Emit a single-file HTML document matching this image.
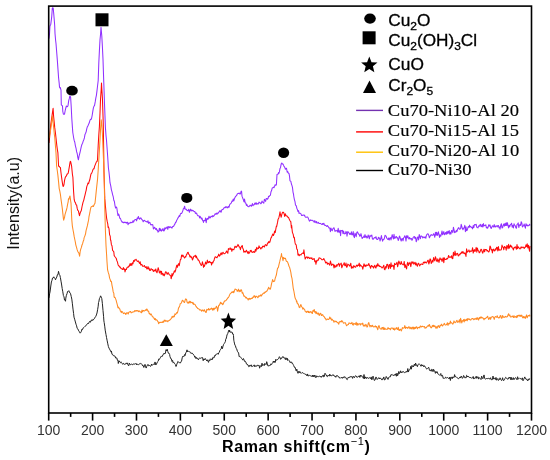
<!DOCTYPE html>
<html><head><meta charset="utf-8"><style>
html,body{margin:0;padding:0;background:#fff;}
body{width:550px;height:460px;overflow:hidden;}
svg{display:block;}
.tl{font-family:"Liberation Sans",Arial,sans-serif;font-size:14px;fill:#333;text-anchor:middle;}
.ml{font-family:"Liberation Sans","Noto Sans CJK KR",sans-serif;font-size:16.5px;fill:#000;stroke:#000;stroke-width:0.3px;}
.sl{font-family:"Liberation Serif","Times New Roman",serif;font-size:17px;fill:#000;stroke:#000;stroke-width:0.15px;}
.ax{font-family:"Liberation Sans","Noto Sans CJK KR",sans-serif;font-size:16px;font-weight:bold;fill:#000;}
.yl{font-family:"Liberation Sans",Arial,sans-serif;font-size:16.5px;fill:#111;}
</style></head><body>
<svg width="550" height="460" viewBox="0 0 550 460">
<g fill="none" stroke-width="1.05" stroke-linejoin="round">
<path d="M48.90,38.57 L49.50,34.16 L49.90,26.67 L50.20,25.47 L50.80,24.18 L51.40,19.42 L51.70,16.89 L52.00,12.77 L52.30,8.37 L52.60,7.82 L53.20,7.94 L53.80,14.51 L54.40,21.79 L54.70,25.67 L55.00,33.33 L55.60,40.29 L56.00,43.51 L56.80,53.44 L57.40,61.09 L58.00,69.66 L58.60,78.00 L59.20,83.38 L59.50,87.01 L59.80,87.87 L60.30,87.51 L61.00,90.06 L61.30,104.90 L61.60,104.99 L62.20,105.79 L62.50,106.02 L62.80,111.50 L63.40,114.16 L64.00,114.18 L64.50,114.12 L65.20,110.49 L65.50,109.26 L65.80,107.96 L66.40,106.01 L67.00,106.66 L67.60,106.47 L68.00,105.62 L68.70,100.62 L69.40,98.16 L69.80,96.08 L70.60,96.95 L71.20,106.48 L71.80,118.45 L72.40,127.12 L72.80,132.53 L73.60,137.49 L74.10,140.18 L74.80,142.27 L75.40,145.82 L76.00,148.02 L76.60,151.65 L77.20,153.46 L77.80,157.43 L78.40,159.79 L79.00,156.34 L79.60,154.09 L80.20,151.52 L80.80,148.87 L81.40,146.09 L82.00,144.26 L82.60,143.22 L83.20,141.09 L83.80,139.72 L84.40,137.95 L85.00,134.43 L85.60,133.27 L86.20,131.61 L86.80,128.57 L87.40,126.57 L88.00,125.95 L88.60,124.19 L89.20,123.07 L89.80,120.90 L90.40,119.36 L91.00,119.47 L91.50,118.75 L92.20,115.23 L92.80,111.31 L93.40,107.82 L94.00,106.14 L94.50,105.69 L95.20,101.93 L95.80,98.09 L96.40,95.32 L97.00,90.69 L97.60,85.48 L98.20,80.48 L98.80,63.00 L99.40,50.86 L100.00,39.86 L100.60,33.68 L101.00,27.26 L101.80,36.02 L102.40,46.82 L103.00,59.22 L103.60,77.58 L104.20,94.44 L104.50,103.97 L104.80,111.26 L105.40,127.36 L106.00,135.47 L106.50,140.21 L107.20,149.79 L107.80,158.23 L108.40,167.70 L109.00,172.20 L109.60,177.86 L110.00,182.73 L110.80,186.10 L111.40,189.80 L112.00,191.82 L112.60,194.55 L113.20,196.53 L113.80,200.21 L114.40,201.46 L115.00,205.60 L115.60,208.02 L116.20,206.93 L116.80,207.73 L117.40,212.16 L118.00,215.54 L118.60,214.00 L119.00,214.87 L119.80,218.29 L120.40,218.32 L121.00,219.94 L121.50,221.19 L122.20,222.34 L122.80,221.81 L123.40,222.74 L124.00,222.64 L124.60,222.13 L125.20,222.69 L125.80,222.21 L126.40,223.17 L127.00,222.24 L127.60,222.36 L128.00,224.71 L128.80,223.13 L129.40,222.97 L130.00,223.31 L130.60,222.31 L131.20,222.31 L131.80,222.74 L132.40,222.33 L133.00,220.69 L133.60,222.14 L134.20,220.52 L134.80,219.76 L135.40,219.50 L136.00,219.52 L136.60,220.89 L137.20,217.93 L137.80,218.69 L138.40,216.48 L139.00,218.40 L139.60,219.21 L140.20,218.19 L140.80,217.83 L141.40,218.90 L142.00,219.76 L142.60,220.17 L143.20,221.79 L143.80,220.64 L144.40,220.24 L145.00,220.91 L145.60,221.21 L146.20,221.63 L146.80,221.76 L147.40,222.20 L148.00,220.80 L148.60,223.36 L149.20,222.41 L149.80,222.19 L150.40,224.13 L151.00,225.06 L151.60,224.63 L152.00,224.55 L152.80,224.73 L153.40,229.04 L154.00,228.13 L154.60,227.19 L155.00,228.10 L155.80,229.46 L156.40,228.43 L157.00,230.42 L157.60,230.29 L158.00,232.10 L158.80,231.65 L159.40,228.17 L160.00,230.49 L160.60,228.83 L161.20,231.12 L161.80,230.11 L162.40,230.23 L163.00,228.54 L163.60,230.91 L164.20,230.84 L164.80,227.82 L165.40,228.89 L166.00,227.73 L166.60,228.09 L167.20,226.75 L167.80,229.35 L168.40,226.63 L169.00,227.08 L169.60,227.65 L170.00,226.52 L170.80,227.32 L171.40,227.36 L172.00,228.08 L172.60,226.49 L173.20,226.49 L173.80,226.03 L174.40,224.82 L175.00,223.85 L175.60,222.22 L176.00,222.28 L176.80,220.03 L177.40,219.24 L178.00,217.80 L178.60,217.09 L179.20,215.58 L179.80,216.35 L180.40,213.93 L181.00,213.33 L181.60,213.36 L182.00,212.76 L182.80,210.87 L183.40,208.53 L184.00,208.52 L184.30,207.13 L184.60,206.21 L185.20,209.34 L185.80,209.18 L186.40,209.29 L187.00,210.54 L187.60,210.44 L188.00,210.88 L188.80,209.25 L189.40,212.33 L190.00,210.16 L190.60,209.16 L191.20,210.96 L191.80,209.93 L192.40,210.71 L193.00,210.44 L193.60,211.03 L194.00,211.52 L194.80,211.47 L195.40,213.38 L196.00,212.98 L196.60,213.28 L197.20,214.79 L197.80,215.78 L198.40,215.83 L199.00,215.92 L199.60,217.92 L200.00,216.22 L200.80,217.51 L201.40,218.96 L202.00,218.18 L202.60,220.31 L203.20,221.11 L203.50,222.41 L203.80,220.56 L204.40,220.38 L205.00,220.80 L205.60,217.96 L206.20,222.63 L206.80,218.88 L207.40,218.42 L208.00,219.38 L208.60,218.08 L209.00,216.20 L209.80,217.92 L210.40,217.80 L211.00,216.30 L211.60,216.30 L212.20,216.84 L212.80,215.43 L213.40,216.37 L214.00,215.83 L214.60,214.71 L215.00,213.85 L215.80,214.22 L216.40,213.12 L217.00,214.30 L217.60,213.05 L218.20,213.14 L218.80,212.08 L219.40,211.82 L220.00,210.55 L220.60,211.52 L221.00,212.31 L221.80,209.98 L222.40,209.40 L223.00,209.46 L223.60,208.51 L224.20,207.65 L224.80,207.74 L225.40,206.78 L226.00,207.79 L226.60,206.68 L227.20,207.15 L227.80,207.90 L228.40,206.39 L229.00,207.29 L229.60,204.77 L230.00,204.17 L230.80,203.49 L231.40,202.91 L232.00,200.94 L232.60,201.33 L233.20,199.02 L233.80,200.93 L234.40,198.77 L235.00,197.42 L235.50,196.48 L236.20,195.93 L236.80,195.19 L237.40,193.82 L238.00,193.42 L238.60,193.57 L239.00,192.93 L239.80,193.98 L240.40,193.96 L241.00,191.54 L241.30,191.13 L241.60,191.60 L242.00,196.17 L242.80,198.21 L243.40,199.92 L244.00,201.81 L244.50,199.05 L245.20,202.87 L245.80,202.97 L246.40,205.49 L247.00,204.62 L247.50,206.05 L248.20,206.54 L248.80,206.79 L249.40,206.19 L250.00,205.29 L250.60,205.28 L251.20,206.36 L251.80,205.34 L252.40,203.60 L253.00,205.66 L253.60,204.79 L254.20,204.73 L254.80,203.16 L255.40,204.15 L256.00,202.60 L256.60,204.21 L257.00,203.36 L257.80,203.97 L258.40,203.94 L259.00,202.04 L259.60,202.65 L260.20,202.74 L260.80,203.77 L261.40,203.12 L262.00,201.05 L262.60,202.23 L263.00,202.27 L263.80,203.07 L264.40,199.32 L265.00,200.02 L265.60,201.37 L266.20,198.62 L266.80,198.43 L267.40,199.23 L268.00,198.72 L268.60,196.24 L269.00,196.69 L269.80,195.59 L270.40,195.23 L271.00,191.70 L271.50,190.79 L272.20,188.06 L272.80,187.83 L273.40,187.17 L274.00,187.63 L274.60,186.46 L275.00,184.82 L275.80,185.31 L276.40,184.79 L277.00,174.50 L277.60,174.17 L278.20,174.03 L278.50,172.57 L278.80,173.46 L279.40,171.88 L280.00,168.42 L280.50,167.67 L281.20,163.87 L281.50,163.80 L281.80,163.05 L282.30,163.89 L283.00,163.96 L283.60,165.39 L284.20,166.69 L284.80,167.42 L285.40,169.31 L286.00,168.46 L286.50,168.25 L287.20,172.25 L287.80,171.56 L288.40,173.29 L289.00,173.41 L289.50,176.15 L290.00,180.88 L290.80,181.21 L291.40,183.99 L292.00,185.66 L292.50,187.57 L293.00,192.05 L293.50,194.12 L293.80,196.50 L294.40,199.53 L295.00,201.69 L295.50,205.11 L296.20,205.66 L296.80,208.18 L297.40,209.54 L298.00,211.48 L298.60,210.69 L299.00,213.37 L299.80,213.04 L300.40,213.52 L301.00,213.89 L301.60,215.54 L302.20,215.56 L302.80,215.04 L303.40,215.06 L304.00,215.40 L304.60,215.11 L305.00,216.58 L305.80,217.28 L306.40,217.15 L307.00,217.02 L307.60,216.97 L308.20,218.07 L308.80,219.48 L309.40,221.14 L310.00,220.52 L310.60,219.93 L311.00,220.53 L311.80,220.31 L312.40,220.22 L313.00,220.93 L313.60,221.10 L314.20,222.39 L314.80,220.61 L315.40,221.94 L316.00,222.64 L316.60,221.45 L317.00,223.05 L317.80,222.92 L318.40,222.41 L319.00,223.54 L319.60,223.47 L320.20,223.39 L320.80,223.57 L321.40,224.05 L322.00,224.49 L322.60,223.48 L323.00,224.39 L323.80,223.23 L324.40,224.98 L325.00,225.46 L325.60,225.38 L326.20,225.82 L326.80,226.42 L327.40,225.62 L328.00,226.33 L328.60,227.34 L329.00,228.00 L329.80,227.90 L330.40,231.70 L331.00,228.06 L331.60,230.03 L332.20,230.76 L332.80,228.99 L333.40,228.17 L334.00,227.78 L334.60,229.94 L335.00,231.47 L335.80,230.65 L336.40,230.83 L337.00,230.33 L337.60,232.07 L338.20,228.36 L338.80,232.24 L339.40,232.14 L340.00,230.19 L340.60,235.66 L341.00,230.42 L341.80,230.68 L342.40,230.35 L343.00,233.67 L343.60,231.00 L344.20,233.66 L344.80,233.87 L345.40,233.59 L346.00,231.39 L346.60,232.58 L347.00,236.11 L347.80,231.53 L348.40,232.12 L349.00,233.02 L349.60,234.38 L350.00,233.48 L350.80,234.41 L351.40,231.84 L352.00,235.00 L352.60,234.58 L353.20,231.48 L353.80,236.32 L354.40,237.59 L355.00,233.15 L355.60,234.52 L356.20,236.66 L356.80,232.47 L357.40,231.84 L358.00,233.01 L358.60,234.24 L359.20,234.36 L359.80,236.27 L360.40,235.85 L361.00,233.65 L361.60,236.44 L362.20,238.48 L362.80,237.53 L363.40,237.29 L364.00,235.91 L364.60,237.43 L365.00,234.55 L365.80,237.29 L366.40,236.15 L367.00,238.10 L367.60,237.22 L368.20,235.01 L368.80,236.95 L369.40,238.71 L370.00,235.31 L370.60,236.23 L371.20,235.99 L371.80,234.97 L372.40,238.73 L373.00,239.33 L373.60,238.63 L374.20,237.87 L374.80,237.50 L375.40,238.02 L376.00,236.64 L376.60,239.16 L377.20,239.48 L377.80,239.39 L378.40,237.28 L379.00,238.28 L379.60,238.00 L380.00,240.98 L380.80,238.57 L381.40,235.48 L382.00,238.90 L382.60,241.12 L383.20,239.33 L383.80,239.62 L384.40,238.35 L385.00,235.34 L385.60,235.62 L386.20,236.50 L386.80,238.22 L387.40,238.91 L388.00,239.51 L388.60,238.01 L389.20,239.99 L389.80,238.17 L390.40,237.57 L391.00,239.94 L391.60,237.32 L392.20,234.64 L392.80,237.18 L393.40,238.95 L394.00,234.22 L394.60,238.34 L395.00,238.40 L395.80,236.67 L396.40,236.52 L397.00,237.99 L397.60,237.79 L398.20,240.44 L398.80,239.04 L399.40,236.04 L400.00,237.07 L400.60,239.34 L401.20,241.06 L401.80,238.73 L402.40,238.55 L403.00,240.81 L403.60,237.92 L404.20,237.42 L404.80,235.70 L405.40,237.03 L406.00,241.07 L406.60,235.67 L407.20,237.82 L407.80,235.69 L408.40,237.99 L409.00,239.13 L409.60,237.43 L410.20,238.90 L410.80,238.88 L411.40,238.47 L412.00,240.37 L412.60,238.97 L413.20,237.34 L413.80,236.78 L414.40,236.53 L415.00,238.51 L415.60,237.25 L416.20,241.76 L416.80,240.37 L417.40,237.21 L418.00,236.98 L418.60,239.94 L419.20,234.51 L419.80,236.59 L420.40,238.63 L421.00,235.77 L421.60,236.36 L422.20,236.48 L422.80,237.93 L423.40,237.08 L424.00,237.41 L424.60,237.64 L425.00,236.74 L425.80,238.29 L426.40,235.47 L427.00,234.35 L427.60,233.77 L428.20,233.95 L428.80,235.49 L429.40,237.81 L430.00,236.46 L430.60,235.24 L431.20,234.48 L431.80,235.23 L432.40,235.35 L433.00,235.05 L433.60,233.69 L434.20,235.07 L434.80,237.25 L435.40,232.35 L436.00,235.12 L436.60,232.17 L437.20,235.49 L437.80,233.96 L438.40,231.82 L439.00,234.97 L439.60,237.41 L440.00,234.76 L440.80,236.17 L441.40,234.18 L442.00,230.92 L442.60,234.76 L443.20,233.27 L443.80,231.57 L444.40,234.81 L445.00,233.93 L445.60,232.53 L446.20,234.44 L446.80,231.65 L447.40,233.75 L448.00,231.19 L448.60,233.22 L449.20,230.59 L449.80,234.29 L450.40,232.30 L451.00,233.95 L451.60,230.45 L452.20,230.85 L452.80,232.70 L453.40,227.20 L454.00,229.60 L454.60,232.63 L455.00,231.70 L455.80,232.29 L456.40,230.23 L457.00,231.41 L457.60,229.33 L458.20,228.24 L458.80,227.62 L459.40,229.20 L460.00,229.08 L460.60,228.82 L461.20,224.31 L461.80,226.51 L462.40,228.57 L463.00,229.67 L463.60,228.24 L464.20,227.66 L464.80,225.38 L465.40,231.66 L466.00,226.73 L466.60,230.65 L467.20,230.22 L467.80,228.03 L468.40,226.51 L469.00,227.32 L469.60,225.14 L470.00,227.09 L470.80,226.56 L471.40,227.25 L472.00,227.77 L472.60,228.83 L473.20,225.54 L473.80,227.58 L474.40,224.72 L475.00,224.46 L475.60,224.90 L476.20,224.38 L476.80,227.34 L477.40,227.28 L478.00,227.83 L478.60,225.91 L479.20,226.38 L479.80,225.12 L480.40,224.30 L481.00,226.74 L481.60,226.51 L482.20,224.49 L482.80,227.07 L483.40,223.63 L484.00,226.01 L484.60,225.38 L485.20,225.57 L485.80,224.78 L486.40,227.88 L487.00,227.34 L487.60,228.31 L488.20,226.77 L488.80,224.67 L489.40,226.09 L490.00,224.91 L490.60,227.37 L491.20,228.50 L491.80,227.17 L492.40,225.78 L493.00,226.13 L493.60,226.99 L494.20,224.51 L494.80,226.90 L495.40,226.98 L496.00,225.86 L496.60,226.05 L497.20,226.93 L497.80,225.44 L498.40,225.44 L499.00,227.84 L499.60,227.01 L500.00,229.19 L500.80,225.10 L501.40,223.84 L502.00,227.86 L502.60,227.82 L503.20,225.20 L503.80,224.04 L504.40,226.11 L505.00,223.48 L505.60,225.53 L506.20,222.70 L506.80,225.55 L507.40,222.66 L508.00,225.42 L508.60,227.98 L509.20,225.24 L509.80,226.72 L510.40,224.58 L511.00,224.21 L511.60,223.30 L512.20,227.10 L512.80,225.45 L513.40,227.97 L514.00,223.77 L514.60,225.20 L515.20,225.65 L515.80,227.65 L516.40,228.27 L517.00,224.56 L517.60,223.83 L518.20,222.92 L518.80,227.53 L519.40,225.40 L520.00,224.55 L520.60,225.45 L521.20,221.69 L521.80,222.94 L522.40,226.93 L523.00,226.12 L523.60,225.75 L524.20,224.02 L524.80,226.40 L525.40,228.19 L526.00,223.68 L526.60,225.54 L527.20,224.87 L527.80,226.06 L528.40,225.54 L529.00,225.30 L529.60,224.20 L530.00,225.50" stroke="#9030FF"/>
<path d="M49.00,143.04 L49.60,137.65 L50.20,130.56 L50.80,124.40 L51.40,119.96 L52.00,115.81 L52.60,111.49 L53.10,108.35 L53.60,116.36 L54.40,124.12 L54.70,127.40 L55.00,129.51 L55.60,134.25 L56.80,145.32 L57.40,149.83 L57.90,152.95 L58.60,166.30 L59.20,166.30 L59.80,167.33 L60.40,167.40 L61.00,172.69 L61.60,177.41 L62.20,181.64 L62.80,185.38 L63.10,186.44 L63.40,186.23 L64.00,184.53 L64.60,180.10 L65.10,178.05 L65.80,176.33 L66.40,176.04 L67.00,174.07 L67.60,173.95 L68.20,173.11 L68.80,169.79 L69.40,166.32 L70.00,162.56 L70.30,161.38 L70.60,161.46 L71.20,164.20 L71.60,166.13 L72.40,174.25 L72.90,177.38 L73.60,191.61 L74.20,199.69 L74.80,201.87 L75.40,202.54 L76.00,204.73 L76.60,204.89 L77.20,208.46 L77.80,210.33 L78.40,210.85 L79.00,213.55 L79.50,215.67 L80.20,212.90 L80.80,211.56 L81.40,210.19 L82.00,206.75 L82.60,204.17 L83.00,202.38 L83.80,200.12 L84.40,197.37 L85.00,195.10 L85.60,192.39 L86.20,190.05 L86.70,186.81 L87.40,184.92 L88.00,183.01 L88.60,183.60 L89.00,182.04 L89.80,179.75 L90.40,176.61 L91.00,173.89 L91.60,173.39 L92.20,171.92 L92.80,170.10 L93.40,168.87 L94.00,168.77 L94.60,166.43 L95.00,165.43 L95.80,163.38 L96.40,161.91 L97.00,161.53 L97.50,159.94 L98.20,145.58 L98.50,139.93 L98.80,135.00 L99.40,126.60 L100.00,113.12 L100.50,99.54 L101.20,89.24 L101.50,83.13 L101.80,88.53 L102.40,97.89 L103.00,115.50 L103.30,125.03 L103.60,144.90 L104.00,171.61 L104.80,198.63 L105.40,205.88 L105.70,209.14 L106.00,212.47 L106.60,218.05 L107.20,221.45 L107.80,224.01 L108.10,227.46 L108.40,226.68 L109.00,228.63 L109.60,234.73 L110.20,236.11 L110.50,240.27 L110.80,240.02 L111.40,244.69 L112.00,245.73 L112.60,250.32 L113.20,250.98 L113.80,251.89 L114.20,255.68 L115.00,256.77 L115.60,257.55 L116.20,258.25 L116.80,260.46 L117.40,261.90 L118.00,264.39 L118.50,265.80 L119.20,266.01 L119.50,266.85 L119.80,267.23 L120.40,267.13 L121.00,268.61 L121.60,268.75 L122.20,269.17 L122.80,269.44 L123.40,267.55 L124.00,269.45 L124.60,269.00 L125.00,271.88 L125.80,269.27 L126.40,269.46 L127.00,267.66 L127.60,267.07 L128.20,267.36 L128.80,266.06 L129.40,266.19 L130.00,263.74 L130.60,265.42 L131.00,263.50 L131.80,265.40 L132.40,262.85 L133.00,263.70 L133.60,260.49 L134.20,261.59 L134.50,259.91 L134.80,260.07 L135.40,260.10 L136.00,259.28 L136.60,260.34 L137.20,261.31 L137.50,261.45 L137.80,261.19 L138.40,260.88 L139.00,262.40 L139.60,263.36 L140.20,261.80 L140.80,265.03 L141.40,264.40 L142.00,264.75 L142.60,266.31 L143.00,266.27 L143.80,266.30 L144.40,265.44 L145.00,267.11 L145.60,267.51 L146.20,266.64 L146.80,268.92 L147.40,268.75 L148.00,266.63 L148.60,269.08 L149.00,267.94 L149.80,270.58 L150.40,270.43 L151.00,268.70 L151.60,268.92 L152.20,269.90 L152.80,269.56 L153.40,271.47 L154.00,270.89 L154.60,270.08 L155.00,271.08 L155.80,269.05 L156.40,271.83 L157.00,272.82 L157.60,270.43 L158.20,267.66 L158.80,269.93 L159.40,272.96 L160.00,271.83 L160.60,271.14 L161.20,274.33 L161.50,271.32 L161.80,273.92 L162.40,273.27 L163.00,275.22 L163.60,273.88 L164.20,275.87 L164.80,274.55 L165.40,272.22 L165.90,271.73 L166.60,273.03 L167.20,274.34 L167.80,272.88 L168.10,272.67 L168.40,272.73 L169.00,274.44 L169.60,274.82 L170.20,275.46 L170.80,275.69 L171.10,278.69 L171.40,277.99 L172.00,273.57 L172.40,276.00 L173.20,274.02 L173.80,272.51 L174.40,270.80 L175.00,272.10 L175.60,270.28 L176.20,267.39 L176.80,265.22 L177.40,267.31 L177.90,264.91 L178.60,263.63 L179.20,265.75 L179.50,264.43 L179.80,262.48 L180.40,259.52 L181.00,259.07 L181.60,255.07 L182.20,256.63 L182.80,254.94 L183.40,255.94 L183.90,256.92 L184.60,258.06 L185.20,256.80 L185.50,256.46 L185.80,256.95 L186.40,254.87 L187.00,254.09 L187.60,252.41 L188.20,252.32 L188.80,254.38 L189.40,254.93 L189.90,256.94 L190.60,256.04 L191.20,257.54 L191.50,257.63 L191.80,257.06 L192.40,259.99 L193.00,258.81 L193.60,256.74 L194.20,256.13 L194.80,256.24 L195.40,255.27 L196.00,257.56 L196.40,256.11 L197.20,258.54 L197.80,259.01 L198.10,260.12 L198.40,259.79 L199.00,260.60 L199.60,262.26 L200.20,263.38 L200.80,264.55 L201.30,265.57 L202.00,264.16 L202.40,261.81 L203.20,264.82 L203.50,267.33 L203.80,265.35 L204.40,266.35 L205.00,264.33 L205.60,261.93 L206.20,263.87 L206.80,263.76 L207.30,260.11 L208.00,262.24 L208.60,262.68 L209.20,261.39 L209.50,262.33 L209.80,261.49 L210.40,262.45 L211.00,262.46 L211.60,265.01 L212.20,262.21 L212.80,263.02 L213.40,261.21 L214.00,260.66 L214.40,258.74 L215.20,256.73 L215.80,256.93 L216.40,257.52 L217.00,257.82 L217.60,256.40 L218.20,255.86 L218.70,254.16 L219.40,256.18 L220.00,255.69 L220.60,253.52 L220.90,253.85 L221.20,252.69 L221.80,254.71 L222.40,253.22 L223.00,252.28 L223.60,253.18 L224.20,253.79 L224.80,253.51 L225.30,253.16 L226.00,252.22 L226.60,250.99 L227.20,252.42 L227.80,253.32 L228.40,248.50 L229.00,249.44 L229.60,248.81 L230.20,247.88 L230.80,249.53 L231.40,248.69 L231.80,251.30 L232.60,249.11 L233.20,249.50 L233.80,249.78 L234.40,248.17 L235.00,246.21 L235.60,246.87 L236.20,247.56 L236.80,246.28 L237.40,246.16 L238.00,244.41 L238.40,245.34 L239.20,246.96 L239.80,247.04 L240.40,249.68 L241.00,247.44 L241.60,246.31 L242.20,245.43 L242.70,247.95 L243.40,249.54 L243.80,252.21 L244.60,251.26 L245.20,252.13 L245.80,251.47 L246.40,250.21 L247.00,251.60 L247.60,253.15 L248.20,251.56 L248.80,253.62 L249.40,252.75 L250.00,251.90 L250.30,250.40 L250.60,251.20 L251.20,250.38 L251.80,252.16 L252.40,252.11 L253.00,252.52 L253.60,251.51 L254.20,251.85 L254.70,252.38 L255.40,249.35 L256.00,251.12 L256.60,247.74 L256.90,247.34 L257.20,249.09 L257.80,248.65 L258.40,248.51 L259.00,245.85 L259.60,247.45 L260.20,247.78 L260.80,249.04 L261.30,247.80 L262.00,248.06 L262.60,246.24 L263.20,246.72 L263.80,246.18 L264.40,247.06 L265.00,245.10 L265.60,244.65 L266.20,245.30 L266.80,245.74 L267.40,243.66 L268.00,242.95 L268.60,241.67 L268.90,242.79 L269.20,241.85 L269.80,242.26 L270.40,240.08 L270.90,238.15 L271.60,237.09 L272.20,235.44 L272.80,233.95 L273.40,235.50 L274.00,234.09 L274.60,231.08 L275.20,232.54 L275.80,229.14 L276.40,226.07 L276.70,226.49 L277.00,224.97 L277.60,222.14 L278.00,219.56 L278.80,217.97 L279.30,215.99 L280.00,211.85 L280.40,214.25 L281.20,217.25 L281.80,214.49 L282.40,212.63 L283.00,212.08 L283.60,212.51 L284.20,213.98 L284.60,216.35 L285.40,213.84 L286.00,215.75 L286.50,215.88 L287.20,216.11 L287.80,217.34 L288.40,217.34 L289.00,218.57 L289.60,220.07 L290.20,221.02 L290.80,221.60 L291.40,227.96 L291.70,225.53 L292.00,229.01 L292.40,232.37 L293.20,234.39 L293.80,237.73 L294.30,237.32 L295.00,242.44 L295.40,244.14 L296.20,244.83 L296.80,249.08 L297.40,249.55 L298.00,255.08 L298.60,254.11 L299.20,255.70 L299.80,254.69 L300.40,254.83 L301.00,255.06 L301.30,254.40 L301.60,253.72 L302.20,253.35 L302.80,252.94 L303.40,253.70 L303.90,249.80 L304.60,255.53 L305.20,259.05 L305.80,257.70 L306.40,257.17 L307.00,256.75 L307.60,258.19 L308.20,257.39 L308.80,257.16 L309.40,258.42 L310.00,258.21 L310.40,257.78 L311.20,258.70 L311.80,257.72 L312.40,259.42 L313.00,259.49 L313.60,258.85 L314.20,258.50 L314.80,261.75 L315.40,260.83 L316.00,264.30 L316.30,260.85 L316.60,262.03 L317.20,260.11 L317.80,260.16 L318.40,260.11 L319.00,257.84 L319.60,257.90 L320.20,258.36 L320.80,258.51 L321.40,259.20 L322.00,259.83 L322.60,259.83 L323.20,259.46 L323.50,258.95 L323.80,258.60 L324.40,259.85 L325.00,260.91 L325.60,262.97 L326.10,262.64 L326.80,262.11 L327.40,264.28 L328.00,263.15 L328.60,263.48 L329.20,264.32 L329.80,265.19 L330.40,260.99 L331.00,263.19 L331.60,265.41 L332.20,264.68 L332.80,264.01 L333.40,264.67 L334.00,267.89 L334.60,265.08 L335.00,267.04 L335.80,266.99 L336.40,264.87 L337.00,266.17 L337.60,264.61 L338.20,264.22 L338.80,263.26 L339.40,266.33 L340.00,264.16 L340.60,263.96 L341.20,263.09 L341.80,267.84 L342.40,266.18 L343.00,264.83 L343.60,263.98 L344.20,262.69 L344.80,265.65 L345.40,265.72 L346.00,263.09 L346.60,267.28 L347.20,266.75 L347.80,264.05 L348.40,264.79 L349.00,265.08 L349.60,266.10 L350.00,265.67 L350.80,263.28 L351.40,268.26 L352.00,266.41 L352.60,267.92 L353.20,267.91 L353.80,265.57 L354.40,266.45 L355.00,267.08 L355.60,267.20 L356.20,265.78 L356.80,265.13 L357.40,266.24 L358.00,264.98 L358.60,265.44 L359.20,263.16 L359.80,266.61 L360.40,264.81 L361.00,265.49 L361.60,266.22 L362.20,266.74 L362.80,269.19 L363.40,266.42 L364.00,263.76 L364.60,266.16 L365.00,264.95 L365.80,266.64 L366.40,264.97 L367.00,265.01 L367.60,265.39 L368.20,265.28 L368.80,263.44 L369.40,265.36 L370.00,266.48 L370.60,268.26 L371.20,265.72 L371.80,265.44 L372.40,266.80 L373.00,266.58 L373.60,268.12 L374.20,266.34 L374.80,265.22 L375.40,267.49 L376.00,268.01 L376.60,265.02 L377.20,266.25 L377.80,263.52 L378.40,265.84 L379.00,265.23 L379.60,266.51 L380.00,266.23 L380.80,266.81 L381.40,266.98 L382.00,267.99 L382.60,267.63 L383.20,266.42 L383.80,265.32 L384.40,269.42 L385.00,269.77 L385.60,266.59 L386.20,268.04 L386.80,264.52 L387.40,264.28 L388.00,266.17 L388.60,268.77 L389.20,264.57 L389.80,264.73 L390.40,268.49 L391.00,262.77 L391.60,266.71 L392.20,266.34 L392.80,265.11 L393.40,265.62 L394.00,269.39 L394.60,263.28 L395.00,264.50 L395.80,264.38 L396.40,263.48 L397.00,262.25 L397.60,266.77 L398.20,264.39 L398.80,261.05 L399.40,262.56 L400.00,264.15 L400.60,264.27 L401.20,261.44 L401.80,263.71 L402.40,264.40 L403.00,264.73 L403.60,264.85 L404.20,261.42 L404.80,267.42 L405.40,264.79 L406.00,267.27 L406.60,268.89 L407.20,263.98 L407.80,262.19 L408.40,265.47 L409.00,263.73 L409.60,263.23 L410.00,262.25 L410.80,266.60 L411.40,263.19 L412.00,261.66 L412.60,263.18 L413.20,262.05 L413.80,264.15 L414.40,263.23 L415.00,262.21 L415.60,264.93 L416.20,263.01 L416.80,265.27 L417.40,266.21 L418.00,263.68 L418.60,263.30 L419.20,264.72 L419.80,265.90 L420.40,264.36 L421.00,264.38 L421.60,263.91 L422.20,264.25 L422.80,264.55 L423.40,262.21 L424.00,262.37 L424.60,263.01 L425.00,261.73 L425.80,262.68 L426.40,263.07 L427.00,261.93 L427.60,260.74 L428.20,260.21 L428.80,264.01 L429.40,262.36 L430.00,258.91 L430.60,259.22 L431.20,263.43 L431.80,262.72 L432.40,260.38 L433.00,261.89 L433.60,257.53 L434.20,259.78 L434.80,260.83 L435.40,256.66 L436.00,258.43 L436.60,260.98 L437.20,261.59 L437.80,258.87 L438.40,260.34 L439.00,262.48 L439.60,259.36 L440.00,257.87 L440.80,259.66 L441.40,258.95 L442.00,261.48 L442.60,259.48 L443.20,257.76 L443.80,262.70 L444.40,257.88 L445.00,259.26 L445.60,259.45 L446.20,259.49 L446.80,258.38 L447.40,258.91 L448.00,257.73 L448.60,255.44 L449.20,257.22 L449.80,257.13 L450.40,256.94 L451.00,257.18 L451.60,255.70 L452.20,258.55 L452.80,258.67 L453.40,252.38 L454.00,255.65 L454.60,254.24 L455.00,251.03 L455.80,255.58 L456.40,253.73 L457.00,253.92 L457.60,253.27 L458.20,255.85 L458.80,255.89 L459.40,254.15 L460.00,254.61 L460.60,253.16 L461.20,253.41 L461.80,251.85 L462.40,252.93 L463.00,251.58 L463.60,253.16 L464.20,253.73 L464.80,252.75 L465.40,254.08 L466.00,256.46 L466.60,248.77 L467.20,252.13 L467.80,251.18 L468.40,251.33 L469.00,249.87 L469.60,252.10 L470.00,251.59 L470.80,250.83 L471.40,251.31 L472.00,250.65 L472.60,247.73 L473.20,253.08 L473.80,250.75 L474.40,249.60 L475.00,251.49 L475.60,249.88 L476.20,247.40 L476.80,252.24 L477.40,248.08 L478.00,250.35 L478.60,250.83 L479.20,252.74 L479.80,252.42 L480.40,250.74 L481.00,249.21 L481.60,249.72 L482.20,252.09 L482.80,253.16 L483.40,251.13 L484.00,249.19 L484.60,251.82 L485.20,249.54 L485.80,249.44 L486.40,249.61 L487.00,250.95 L487.60,250.41 L488.20,251.51 L488.80,251.96 L489.40,250.66 L490.00,246.07 L490.60,247.02 L491.20,249.92 L491.80,249.50 L492.40,252.99 L493.00,249.42 L493.60,249.16 L494.20,250.85 L494.80,250.98 L495.40,248.83 L496.00,249.90 L496.60,247.26 L497.20,247.50 L497.80,250.91 L498.40,246.62 L499.00,250.29 L499.60,249.83 L500.00,249.93 L500.80,250.07 L501.40,249.45 L502.00,245.05 L502.60,246.81 L503.20,247.39 L503.80,249.75 L504.40,246.41 L505.00,247.02 L505.60,247.50 L506.20,250.12 L506.80,245.65 L507.40,245.72 L508.00,248.82 L508.60,244.35 L509.20,248.22 L509.80,246.90 L510.40,245.08 L511.00,246.93 L511.60,246.00 L512.20,247.87 L512.80,248.18 L513.40,249.98 L514.00,247.58 L514.60,247.76 L515.20,246.68 L515.80,247.56 L516.40,249.28 L517.00,244.52 L517.60,248.65 L518.20,246.74 L518.80,247.72 L519.40,248.12 L520.00,248.96 L520.60,247.92 L521.20,246.84 L521.80,247.90 L522.40,247.35 L523.00,246.94 L523.60,247.53 L524.20,248.54 L524.80,247.29 L525.40,247.25 L526.00,244.88 L526.60,246.67 L527.20,243.84 L527.80,247.89 L528.40,245.17 L529.00,248.68 L529.60,251.33 L530.00,245.86" stroke="#FF0A0A"/>
<path d="M49.00,138.41 L49.60,135.09 L50.20,132.52 L50.80,128.78 L51.40,124.46 L52.00,120.01 L52.50,115.90 L53.20,123.19 L53.60,127.03 L54.40,134.99 L54.70,137.05 L55.00,140.62 L55.60,148.02 L56.00,152.87 L56.60,165.79 L57.40,171.51 L57.90,175.39 L58.60,182.10 L59.20,188.58 L59.80,191.17 L60.40,194.30 L61.00,199.13 L61.60,203.42 L62.20,207.80 L62.50,210.33 L62.80,213.09 L63.40,218.60 L63.70,220.19 L64.00,218.98 L64.60,217.03 L65.00,214.65 L65.80,211.84 L66.40,210.03 L67.00,207.63 L67.60,204.40 L68.20,201.59 L68.50,198.67 L68.80,199.59 L69.40,197.56 L70.00,196.03 L70.60,200.47 L71.00,203.08 L71.80,219.82 L72.30,225.57 L73.00,229.72 L73.60,232.87 L74.20,236.63 L74.80,239.50 L75.40,242.40 L75.80,244.84 L76.60,247.69 L77.20,249.93 L77.80,251.49 L78.40,252.45 L78.70,252.61 L79.00,253.53 L79.60,256.21 L80.20,251.50 L80.60,249.58 L81.40,247.42 L82.00,245.00 L82.60,243.72 L83.20,241.27 L83.80,239.92 L84.10,237.79 L84.40,237.14 L85.00,235.62 L85.60,233.62 L86.00,230.84 L86.80,227.98 L87.40,225.67 L88.00,222.66 L88.60,220.00 L89.00,216.52 L89.80,212.98 L90.40,209.30 L91.00,207.16 L91.60,206.59 L92.20,206.45 L92.80,205.91 L93.40,206.51 L94.00,205.00 L94.60,203.86 L95.00,203.26 L95.80,195.58 L96.40,189.66 L97.00,184.18 L97.50,179.68 L98.20,170.05 L98.50,164.42 L98.80,159.96 L99.40,150.47 L100.00,139.59 L100.50,130.23 L101.20,119.70 L101.80,124.86 L102.40,133.65 L103.00,147.49 L103.50,159.30 L104.20,180.09 L104.50,195.07 L104.80,209.00 L105.40,230.14 L106.00,245.33 L106.60,254.70 L107.00,261.75 L107.60,269.96 L108.40,272.95 L109.00,274.70 L109.60,278.16 L110.20,279.53 L110.80,281.58 L111.40,281.33 L112.00,285.32 L112.60,288.19 L113.20,291.95 L113.80,293.12 L114.10,296.86 L114.40,297.48 L115.00,297.32 L115.60,298.91 L116.10,300.18 L116.80,302.86 L117.40,305.09 L118.00,307.83 L118.60,307.15 L119.20,308.56 L119.80,308.94 L120.40,311.04 L121.00,311.58 L121.30,312.59 L121.60,311.16 L122.20,312.06 L122.60,311.87 L123.40,313.62 L124.00,313.25 L124.60,312.80 L125.20,313.31 L125.80,314.52 L126.40,313.34 L127.00,312.60 L127.60,312.91 L128.20,314.00 L128.80,312.24 L129.40,312.04 L130.00,311.64 L130.60,311.53 L131.10,312.74 L131.80,312.76 L132.40,312.06 L133.00,312.10 L133.60,311.80 L134.20,311.67 L134.80,310.45 L135.40,311.01 L136.00,311.24 L136.30,310.59 L136.60,310.79 L137.20,310.57 L137.80,310.88 L138.40,311.65 L138.90,310.84 L139.60,311.16 L140.20,311.93 L140.80,311.96 L141.40,312.78 L142.00,310.09 L142.60,311.71 L143.20,310.54 L143.80,310.64 L144.10,310.94 L144.40,310.95 L145.00,310.63 L145.60,309.75 L146.20,310.40 L146.70,308.92 L147.40,309.90 L148.00,311.27 L148.60,311.15 L149.20,313.68 L149.80,313.54 L150.40,314.86 L151.00,314.00 L151.30,314.05 L151.60,314.90 L152.20,316.26 L152.80,316.39 L153.30,317.85 L154.00,318.07 L154.60,319.54 L155.20,318.47 L155.80,320.18 L156.40,319.68 L157.00,320.08 L157.60,321.15 L158.20,321.90 L158.50,323.30 L158.80,323.60 L159.40,322.50 L160.00,322.26 L160.40,322.56 L161.20,322.15 L161.80,322.45 L162.40,322.50 L163.00,321.35 L163.60,322.29 L164.20,320.06 L164.80,321.02 L165.20,320.19 L166.00,321.33 L166.60,320.86 L167.20,320.66 L167.80,321.73 L168.40,320.75 L169.00,320.60 L169.60,320.36 L170.20,319.71 L170.80,319.08 L171.40,318.06 L171.70,318.18 L172.00,316.61 L172.60,317.30 L173.20,316.02 L173.70,317.03 L174.40,316.43 L175.00,313.73 L175.60,314.49 L176.20,313.72 L176.80,312.52 L177.40,312.95 L178.00,310.68 L178.60,307.71 L178.90,307.63 L179.20,306.97 L179.80,305.65 L180.20,303.80 L181.00,303.40 L181.50,302.48 L182.20,300.56 L182.80,300.27 L183.40,301.52 L184.00,302.09 L184.60,302.46 L185.20,299.94 L185.80,298.86 L186.40,299.33 L186.70,299.96 L187.00,302.25 L187.60,302.17 L188.00,303.38 L188.80,302.40 L189.30,301.27 L190.00,303.03 L190.60,301.41 L191.20,302.45 L191.80,302.43 L192.40,303.12 L193.00,302.34 L193.30,304.45 L193.60,303.52 L194.20,304.22 L194.80,304.19 L195.20,304.73 L196.00,306.37 L196.60,307.24 L197.20,307.69 L197.80,308.59 L198.40,308.86 L199.00,309.02 L199.60,309.89 L200.20,310.04 L200.80,309.88 L201.40,310.72 L201.70,311.24 L202.00,310.48 L202.60,309.96 L203.20,310.52 L203.80,311.15 L204.30,309.66 L205.00,311.09 L205.60,312.22 L206.20,312.40 L206.80,309.34 L207.40,309.70 L208.00,309.87 L208.60,308.57 L209.20,310.07 L209.80,309.45 L210.20,308.74 L211.00,309.23 L211.60,308.10 L212.20,308.73 L212.80,310.29 L213.40,308.22 L214.00,309.70 L214.60,308.15 L215.00,308.65 L215.80,307.87 L216.40,306.26 L217.00,307.23 L217.60,311.12 L218.20,307.81 L218.80,305.23 L219.40,305.26 L220.00,303.79 L220.60,302.30 L220.90,302.56 L221.20,303.67 L221.80,303.02 L222.40,304.16 L222.80,304.69 L223.60,302.92 L224.20,301.57 L224.80,300.85 L225.40,300.86 L226.00,300.63 L226.60,299.41 L227.20,298.98 L227.80,297.77 L228.40,297.68 L228.70,296.89 L229.00,296.49 L229.60,294.88 L230.20,293.70 L230.70,293.59 L231.40,292.48 L232.00,291.98 L232.60,292.44 L233.20,291.33 L233.80,292.69 L234.40,290.80 L235.00,289.07 L235.60,289.21 L236.20,289.68 L236.80,289.75 L237.20,291.42 L238.00,290.45 L238.60,289.15 L239.10,291.82 L239.80,290.44 L240.40,291.42 L241.00,289.64 L241.60,290.23 L242.20,293.21 L242.80,292.60 L243.40,294.47 L244.00,296.32 L244.30,295.97 L244.60,296.13 L245.20,296.82 L245.80,297.87 L246.30,297.28 L247.00,298.44 L247.60,298.63 L248.20,299.98 L248.80,298.44 L249.40,298.25 L250.00,299.52 L250.60,298.58 L251.20,298.64 L251.80,298.15 L252.20,298.56 L253.00,297.12 L253.60,297.30 L254.10,295.54 L254.80,296.38 L255.40,297.74 L256.00,296.09 L256.60,296.54 L257.20,296.81 L257.80,297.78 L258.40,296.92 L259.00,295.43 L259.30,296.33 L259.60,295.92 L260.20,295.96 L260.80,294.76 L261.40,296.02 L262.00,294.87 L262.60,294.06 L263.20,293.34 L263.80,293.06 L264.40,293.31 L265.00,292.03 L265.60,292.30 L266.20,291.38 L266.80,291.28 L267.20,290.53 L268.00,289.12 L268.60,287.29 L269.10,288.19 L269.80,289.05 L270.40,289.11 L271.00,286.69 L271.50,283.79 L272.20,281.37 L272.60,279.59 L273.40,281.61 L274.00,281.21 L274.60,281.18 L275.20,278.23 L275.80,276.60 L276.40,274.74 L277.00,271.10 L277.60,268.13 L278.20,267.73 L278.50,266.83 L278.80,265.34 L279.40,262.81 L279.80,261.45 L280.60,257.95 L281.20,255.77 L281.50,253.59 L281.80,256.11 L282.40,257.37 L283.00,260.62 L283.60,257.40 L284.20,258.62 L284.80,258.23 L285.40,258.19 L286.00,260.23 L286.30,261.19 L286.60,261.47 L287.20,261.52 L287.80,262.56 L288.30,263.96 L289.00,266.23 L289.60,267.26 L290.20,269.65 L290.80,272.13 L291.40,276.07 L292.00,278.31 L292.60,283.18 L293.20,288.04 L293.80,290.78 L294.40,294.12 L294.90,297.06 L295.60,299.24 L296.20,299.88 L296.50,301.92 L296.80,300.92 L297.40,303.77 L298.00,303.73 L298.60,305.05 L299.20,307.30 L299.80,307.64 L300.40,305.56 L300.90,304.58 L301.60,306.71 L302.20,307.30 L302.50,307.87 L302.80,309.18 L303.40,308.07 L304.00,308.86 L304.60,309.31 L305.20,311.38 L305.80,311.68 L306.40,312.42 L307.00,311.31 L307.60,311.34 L308.20,312.44 L308.50,311.33 L308.80,312.57 L309.40,312.63 L310.00,311.45 L310.60,312.19 L311.20,311.80 L311.80,313.10 L312.40,313.44 L312.90,310.51 L313.60,311.15 L314.20,309.44 L314.80,312.27 L315.10,312.29 L315.40,311.50 L316.00,313.70 L316.60,311.90 L317.20,313.62 L317.80,314.15 L318.40,312.98 L319.00,315.12 L319.40,315.40 L320.20,313.30 L320.80,313.44 L321.40,315.52 L322.00,315.26 L322.60,314.58 L323.20,315.88 L323.80,316.50 L324.40,316.93 L325.00,318.31 L325.60,318.36 L326.00,319.98 L326.80,319.61 L327.40,318.94 L328.00,319.32 L328.60,319.51 L329.20,318.86 L329.80,316.96 L330.40,318.87 L330.90,318.07 L331.60,320.16 L332.20,319.24 L332.80,320.19 L333.40,320.54 L334.00,322.20 L334.60,321.07 L335.20,320.94 L335.80,321.79 L336.40,321.38 L337.00,322.25 L337.60,322.39 L338.00,322.86 L338.80,324.11 L339.40,321.66 L340.00,321.85 L340.60,321.39 L341.20,321.98 L341.80,320.49 L342.40,321.32 L343.00,322.31 L343.40,323.12 L344.20,322.96 L344.80,322.82 L345.40,322.78 L346.00,324.44 L346.60,325.72 L347.20,325.04 L347.80,324.67 L348.40,324.54 L349.00,322.85 L349.40,323.20 L350.20,323.25 L350.80,323.78 L351.40,323.47 L352.00,322.34 L352.60,324.57 L353.20,325.11 L353.80,323.25 L354.40,323.88 L355.00,323.75 L355.60,324.32 L356.20,322.24 L356.80,325.25 L357.40,323.34 L358.00,325.06 L358.60,324.01 L359.20,323.63 L359.80,323.94 L360.40,325.04 L361.00,323.50 L361.60,324.10 L362.20,324.13 L362.80,323.09 L363.40,326.08 L364.00,325.53 L364.60,325.09 L365.00,326.31 L365.80,324.40 L366.40,325.33 L367.00,327.12 L367.60,326.49 L368.20,323.53 L368.80,322.57 L369.40,324.83 L370.00,326.91 L370.60,325.50 L371.20,325.79 L371.80,326.62 L372.40,325.25 L373.00,326.34 L373.60,326.94 L374.20,326.68 L374.80,326.66 L375.40,325.86 L376.00,327.13 L376.60,326.44 L377.20,328.29 L377.80,329.69 L378.40,326.75 L379.00,325.59 L379.60,327.46 L380.00,328.36 L380.80,329.08 L381.40,329.17 L382.00,327.46 L382.60,327.51 L383.20,329.52 L383.80,327.34 L384.40,329.48 L385.00,328.28 L385.60,329.23 L386.20,329.17 L386.80,329.24 L387.40,329.28 L388.00,327.56 L388.60,328.78 L389.20,328.51 L389.80,328.79 L390.40,329.70 L391.00,328.32 L391.60,327.95 L392.20,327.98 L392.80,328.43 L393.40,329.49 L394.00,328.05 L394.60,329.97 L395.00,329.18 L395.80,328.69 L396.40,327.63 L397.00,329.13 L397.60,329.56 L398.20,327.22 L398.80,330.03 L399.40,330.47 L400.00,329.22 L400.60,329.24 L401.20,330.93 L401.80,329.67 L402.40,327.52 L403.00,328.22 L403.60,327.96 L404.20,327.83 L404.80,325.60 L405.40,328.49 L406.00,327.12 L406.60,327.83 L407.20,327.49 L407.80,328.40 L408.40,327.25 L409.00,326.72 L409.60,327.94 L410.00,328.73 L410.80,327.19 L411.40,328.87 L412.00,327.89 L412.60,327.21 L413.20,329.23 L413.80,327.08 L414.40,328.89 L415.00,327.53 L415.60,328.36 L416.20,326.68 L416.80,326.99 L417.40,328.72 L418.00,327.82 L418.60,327.60 L419.20,327.08 L419.80,327.85 L420.40,326.02 L421.00,326.20 L421.60,327.03 L422.20,326.30 L422.80,326.34 L423.40,326.86 L424.00,326.71 L424.60,326.54 L425.00,328.28 L425.80,327.63 L426.40,327.81 L427.00,326.59 L427.60,326.12 L428.20,325.19 L428.80,326.22 L429.40,324.54 L430.00,325.95 L430.60,327.15 L431.20,327.90 L431.80,327.20 L432.40,325.39 L433.00,326.61 L433.60,325.32 L434.20,326.78 L434.80,325.82 L435.40,326.72 L436.00,328.34 L436.60,326.78 L437.20,328.12 L437.80,326.07 L438.40,325.59 L439.00,327.17 L439.60,327.54 L440.00,325.37 L440.80,325.75 L441.40,324.15 L442.00,325.15 L442.60,326.02 L443.20,324.92 L443.80,324.30 L444.40,323.33 L445.00,324.85 L445.60,325.10 L446.20,324.75 L446.80,324.27 L447.40,322.67 L448.00,325.39 L448.60,323.51 L449.20,323.27 L449.80,323.95 L450.40,321.09 L451.00,323.00 L451.60,322.85 L452.20,323.25 L452.80,324.09 L453.40,323.17 L454.00,320.90 L454.60,322.23 L455.00,322.70 L455.80,322.43 L456.40,320.92 L457.00,320.40 L457.60,322.35 L458.20,321.99 L458.80,321.49 L459.40,319.72 L460.00,322.89 L460.60,318.36 L461.20,320.69 L461.80,322.93 L462.40,320.71 L463.00,321.00 L463.60,319.58 L464.20,321.90 L464.80,319.30 L465.40,320.65 L466.00,320.39 L466.60,319.12 L467.20,320.81 L467.80,318.48 L468.40,319.03 L469.00,319.51 L469.60,319.00 L470.00,319.74 L470.80,320.11 L471.40,318.91 L472.00,318.63 L472.60,318.60 L473.20,318.70 L473.80,319.77 L474.40,318.74 L475.00,319.29 L475.60,318.77 L476.20,318.00 L476.80,319.58 L477.40,317.72 L478.00,318.67 L478.60,320.02 L479.20,317.53 L479.80,318.46 L480.40,316.97 L481.00,317.95 L481.60,316.97 L482.20,318.00 L482.80,317.79 L483.40,318.39 L484.00,319.73 L484.60,318.45 L485.20,318.76 L485.80,318.05 L486.40,317.82 L487.00,317.22 L487.60,316.26 L488.20,317.99 L488.80,319.43 L489.40,318.29 L490.00,317.29 L490.60,319.33 L491.20,317.32 L491.80,317.10 L492.40,316.50 L493.00,316.71 L493.60,317.35 L494.20,319.45 L494.80,317.32 L495.40,316.50 L496.00,316.86 L496.60,317.19 L497.20,315.74 L497.80,317.45 L498.40,317.96 L499.00,317.56 L499.60,317.79 L500.00,315.97 L500.80,315.53 L501.40,318.32 L502.00,318.10 L502.60,315.55 L503.20,317.17 L503.80,316.96 L504.40,317.41 L505.00,317.05 L505.60,316.33 L506.20,316.95 L506.80,316.87 L507.40,316.64 L508.00,314.88 L508.60,313.75 L509.20,315.81 L509.80,314.96 L510.40,316.72 L511.00,317.14 L511.60,316.69 L512.20,316.06 L512.80,316.45 L513.40,317.47 L514.00,315.65 L514.60,317.19 L515.20,316.96 L515.80,316.52 L516.40,317.62 L517.00,315.54 L517.60,317.09 L518.20,315.29 L518.80,315.42 L519.40,315.12 L520.00,316.52 L520.60,315.23 L521.20,316.20 L521.80,315.09 L522.40,317.21 L523.00,317.96 L523.60,316.46 L524.20,317.83 L524.80,316.82 L525.40,318.38 L526.00,316.43 L526.60,314.87 L527.20,317.80 L527.80,316.29 L528.40,315.45 L529.00,315.84 L529.60,314.94 L530.00,316.34" stroke="#FF8A24"/>
<path d="M48.90,298.01 L49.60,293.77 L50.00,292.05 L50.80,286.00 L51.40,281.96 L52.00,280.30 L52.50,278.02 L53.20,277.95 L53.80,276.80 L54.40,277.96 L55.00,278.64 L55.50,279.81 L56.20,278.03 L56.80,277.08 L57.40,274.68 L58.00,274.65 L58.50,271.34 L59.20,274.33 L59.80,275.08 L60.40,277.60 L61.00,281.14 L61.50,284.00 L62.20,288.53 L62.80,291.79 L63.40,295.53 L64.00,296.84 L64.50,300.00 L65.20,300.23 L65.50,301.25 L65.80,298.12 L66.40,295.26 L67.00,293.73 L67.60,291.57 L68.00,291.74 L68.80,290.66 L69.40,291.79 L70.00,293.16 L70.50,293.46 L71.20,296.39 L71.80,299.10 L72.40,303.82 L73.00,309.08 L73.60,313.60 L74.00,317.13 L74.80,319.80 L75.40,321.97 L76.00,324.19 L76.60,325.83 L77.20,328.41 L77.80,328.84 L78.40,330.15 L79.00,331.50 L79.60,331.88 L80.20,333.16 L80.80,332.36 L81.40,331.32 L82.00,329.01 L82.60,329.44 L83.20,327.88 L83.80,327.34 L84.40,327.02 L85.00,326.40 L85.60,326.04 L86.00,325.28 L86.80,324.51 L87.40,324.15 L88.00,323.05 L88.60,323.51 L89.20,322.07 L89.80,321.31 L90.40,322.29 L91.00,320.79 L91.60,319.81 L92.00,320.83 L92.80,319.49 L93.40,319.85 L94.00,318.73 L94.60,318.36 L95.20,317.08 L95.80,316.35 L96.40,314.96 L97.00,312.96 L97.60,309.73 L98.20,306.21 L98.50,302.54 L98.80,302.10 L99.40,298.68 L100.00,297.52 L100.60,295.83 L101.20,297.08 L101.80,298.65 L102.40,303.71 L103.00,310.43 L103.60,316.76 L103.90,320.96 L104.20,322.59 L104.80,326.84 L105.20,330.11 L106.00,334.63 L106.50,337.38 L107.20,340.86 L107.80,343.85 L108.40,346.56 L109.00,348.13 L109.60,349.07 L110.20,350.58 L110.80,350.68 L111.10,352.11 L111.40,351.09 L112.00,354.34 L112.60,354.38 L113.00,355.15 L113.80,356.00 L114.40,355.90 L115.00,356.10 L115.60,358.03 L116.20,357.95 L116.80,357.91 L117.40,360.27 L118.00,360.07 L118.30,363.52 L118.60,361.60 L119.20,360.85 L119.60,362.01 L120.40,362.76 L121.00,361.77 L121.50,362.70 L122.20,363.53 L122.80,364.39 L123.40,363.33 L124.00,363.61 L124.60,364.48 L125.20,363.72 L125.80,364.10 L126.10,363.99 L126.40,362.89 L127.00,363.71 L127.60,362.89 L128.00,365.19 L128.80,365.71 L129.40,363.18 L130.00,364.49 L130.60,364.60 L131.20,364.06 L131.80,364.39 L132.40,364.77 L133.00,363.91 L133.60,364.07 L134.20,363.96 L134.80,364.19 L135.20,364.13 L136.00,363.31 L136.60,364.86 L137.20,363.88 L137.80,364.66 L138.40,364.80 L139.00,364.18 L139.60,363.80 L140.20,363.82 L140.80,363.35 L141.40,363.71 L142.00,364.51 L142.60,365.88 L143.00,365.32 L143.80,367.46 L144.40,366.50 L145.00,364.35 L145.60,366.78 L146.20,368.07 L146.80,366.19 L147.40,365.28 L148.00,364.38 L148.30,365.86 L148.60,365.67 L149.20,365.55 L149.80,365.49 L150.40,366.44 L150.90,366.06 L151.60,364.07 L152.20,365.36 L152.80,364.59 L153.40,364.06 L154.00,364.78 L154.60,364.27 L155.00,361.95 L155.80,365.03 L156.40,364.22 L157.00,362.90 L157.60,361.69 L158.20,361.16 L158.80,358.94 L159.40,359.40 L160.00,358.19 L160.60,357.31 L160.90,356.46 L161.20,356.25 L161.80,356.85 L162.40,356.22 L162.80,355.00 L163.60,354.04 L164.20,352.99 L164.80,353.87 L165.40,353.42 L166.00,349.68 L166.50,350.94 L167.20,349.20 L167.80,351.46 L168.40,353.21 L169.00,353.16 L169.60,354.39 L170.00,356.65 L170.80,358.76 L171.40,358.85 L172.00,361.48 L172.60,360.41 L173.20,363.07 L173.80,362.39 L174.40,363.24 L175.00,364.32 L175.60,364.87 L175.90,366.48 L176.20,366.35 L176.80,364.21 L177.40,362.81 L177.80,361.46 L178.60,361.98 L179.20,362.73 L179.80,362.78 L180.40,362.97 L181.00,361.80 L181.60,361.00 L182.20,357.82 L182.80,356.28 L183.40,357.02 L184.00,356.22 L184.60,354.55 L185.00,355.64 L185.80,352.74 L186.40,352.09 L187.00,349.84 L187.60,351.79 L188.20,350.91 L188.80,351.59 L189.40,351.77 L190.00,351.88 L190.60,352.39 L191.20,353.61 L191.80,352.92 L192.20,353.19 L193.00,353.91 L193.60,354.91 L194.10,355.35 L194.80,357.27 L195.40,356.63 L196.00,358.67 L196.60,357.48 L197.20,358.71 L197.80,358.55 L198.40,359.81 L199.00,358.76 L199.60,357.76 L200.20,358.43 L200.70,358.11 L201.40,357.77 L202.00,357.95 L202.60,357.59 L203.20,360.72 L203.80,358.90 L204.40,359.87 L205.00,358.46 L205.60,358.82 L205.90,359.72 L206.20,359.87 L206.80,360.93 L207.40,359.79 L208.00,361.32 L208.50,362.35 L209.20,359.80 L209.80,360.74 L210.40,358.81 L211.00,359.47 L211.60,359.09 L212.00,359.93 L212.80,357.44 L213.40,357.72 L213.90,358.08 L214.60,355.60 L215.20,355.93 L215.80,354.64 L216.40,353.99 L217.00,354.28 L217.60,353.47 L218.20,354.32 L218.80,352.79 L219.40,352.15 L219.80,350.61 L220.60,349.36 L221.20,348.86 L221.70,346.22 L222.40,348.66 L223.00,346.20 L223.60,344.41 L224.20,343.41 L224.80,342.84 L225.40,341.46 L225.70,339.33 L226.00,339.08 L226.60,336.88 L227.00,334.93 L227.80,333.40 L228.30,331.75 L229.00,330.07 L229.30,332.00 L229.60,330.22 L230.20,332.38 L230.80,332.06 L231.40,332.14 L232.00,331.95 L232.60,334.00 L233.20,333.95 L233.50,335.57 L233.80,340.21 L234.10,341.66 L234.40,343.09 L235.00,345.45 L235.40,345.65 L236.20,348.46 L236.70,348.79 L237.40,351.33 L238.00,352.06 L238.60,353.06 L239.20,356.74 L239.80,356.49 L240.40,357.12 L241.00,357.38 L241.30,358.14 L241.60,358.59 L242.20,359.10 L242.80,360.14 L243.40,358.51 L243.90,359.53 L244.60,361.43 L245.20,361.19 L245.80,361.94 L246.40,363.85 L247.00,363.89 L247.60,365.04 L248.20,365.12 L248.80,366.77 L249.40,366.41 L249.80,365.13 L250.60,366.15 L251.20,364.79 L251.70,366.58 L252.40,366.41 L253.00,365.88 L253.60,365.82 L254.20,364.85 L254.80,366.81 L255.40,365.97 L256.00,365.68 L256.60,366.37 L257.00,365.17 L257.80,365.42 L258.40,365.47 L259.00,365.08 L259.60,368.23 L260.20,366.01 L260.80,365.74 L261.40,366.60 L262.00,363.23 L262.60,365.57 L263.20,365.44 L263.80,364.49 L264.40,365.47 L264.80,363.37 L265.60,364.36 L266.20,364.58 L266.70,361.70 L267.40,363.81 L268.00,366.13 L268.60,365.96 L269.20,365.18 L269.80,365.71 L270.40,365.33 L270.90,363.83 L271.60,364.56 L272.20,363.39 L272.80,362.53 L273.40,361.05 L274.00,362.60 L274.60,361.14 L275.20,362.42 L275.80,359.29 L276.10,359.98 L276.40,360.33 L277.00,359.53 L277.60,359.64 L278.00,359.08 L278.80,358.23 L279.40,356.68 L280.00,357.61 L280.60,359.36 L281.20,358.21 L281.80,358.31 L282.40,356.74 L283.00,357.25 L283.60,356.89 L283.90,358.00 L284.20,357.85 L284.80,358.37 L285.40,359.63 L285.90,357.73 L286.60,359.47 L287.20,358.17 L287.80,360.58 L288.40,359.74 L289.00,360.42 L289.60,360.98 L290.20,362.72 L290.80,361.98 L291.40,362.20 L291.70,361.96 L292.00,363.53 L292.60,363.43 L293.20,364.52 L293.70,365.58 L294.40,367.26 L295.00,367.11 L295.60,369.18 L296.20,370.90 L296.80,369.12 L297.40,372.22 L298.00,373.33 L298.60,371.43 L299.20,372.69 L299.80,371.40 L300.20,372.98 L301.00,372.66 L301.60,373.32 L302.20,372.51 L302.80,372.74 L303.40,373.34 L304.00,373.43 L304.60,373.80 L305.20,374.43 L305.80,374.00 L306.40,375.07 L307.00,375.87 L307.60,373.94 L308.00,376.14 L308.80,375.56 L309.40,375.40 L310.00,375.35 L310.60,375.87 L311.20,375.86 L311.80,376.59 L312.40,375.17 L313.00,376.87 L313.30,375.31 L313.60,376.52 L314.20,376.84 L314.80,375.00 L315.40,376.84 L315.90,377.74 L316.60,375.80 L317.20,376.77 L317.80,376.35 L318.40,376.67 L319.00,376.36 L319.60,375.98 L320.20,376.83 L320.80,376.83 L321.10,376.06 L321.40,377.19 L322.00,376.69 L322.60,376.23 L323.20,374.93 L323.70,376.90 L324.40,376.44 L325.00,373.23 L325.60,374.27 L326.20,374.90 L326.80,376.32 L327.40,376.63 L328.00,375.10 L328.60,375.63 L329.20,376.09 L329.80,374.12 L330.40,376.04 L331.00,375.23 L331.60,375.80 L332.20,375.66 L332.80,374.61 L333.40,374.88 L334.00,376.00 L334.60,376.17 L335.00,375.84 L335.80,377.31 L336.40,375.99 L337.00,375.24 L337.60,376.22 L338.20,376.50 L338.80,376.65 L339.40,378.06 L340.00,377.51 L340.60,378.13 L341.20,377.77 L341.80,377.05 L342.40,378.33 L343.00,377.10 L343.60,377.68 L344.20,376.51 L344.80,377.68 L345.40,377.23 L346.00,377.86 L346.60,379.23 L347.20,379.71 L347.80,378.29 L348.40,377.17 L349.00,377.95 L349.60,377.29 L350.00,376.40 L350.80,376.95 L351.40,376.76 L352.00,376.40 L352.60,378.39 L353.20,376.47 L353.80,376.51 L354.40,377.71 L355.00,376.31 L355.60,375.80 L356.20,376.04 L356.80,377.31 L357.40,377.15 L358.00,377.01 L358.60,376.19 L359.20,375.68 L359.80,377.44 L360.40,375.15 L361.00,376.52 L361.60,375.54 L362.20,376.59 L362.80,376.98 L363.40,378.49 L364.00,374.53 L364.60,378.89 L365.00,376.73 L365.80,378.02 L366.40,378.62 L367.00,377.14 L367.60,377.90 L368.20,378.56 L368.80,378.03 L369.40,377.50 L370.00,378.51 L370.60,378.48 L371.20,376.92 L371.80,379.83 L372.40,378.75 L373.00,376.15 L373.60,377.79 L374.20,380.39 L374.80,380.30 L375.40,378.96 L376.00,376.93 L376.60,378.30 L377.20,379.53 L377.80,378.79 L378.40,378.00 L379.00,377.52 L379.60,379.01 L380.00,377.93 L380.80,378.59 L381.40,378.85 L382.00,380.09 L382.60,378.73 L383.20,378.90 L383.80,376.94 L384.40,379.94 L385.00,379.81 L385.60,379.00 L386.20,376.46 L386.80,377.71 L387.40,377.88 L388.00,379.44 L388.60,377.47 L389.20,377.21 L389.80,376.77 L390.20,376.98 L391.00,374.50 L391.60,374.79 L392.20,374.46 L392.80,375.35 L393.40,375.28 L394.00,375.74 L394.50,374.61 L395.20,375.18 L395.80,373.76 L396.40,376.26 L397.00,373.14 L397.60,375.76 L398.20,374.37 L398.80,371.44 L399.40,373.50 L400.00,373.05 L400.60,370.80 L401.20,372.85 L401.80,372.05 L402.40,372.40 L403.00,371.27 L403.60,372.18 L404.20,372.76 L404.80,372.28 L405.40,371.97 L406.00,372.53 L406.60,371.35 L407.20,372.07 L407.80,368.56 L408.40,372.04 L409.00,369.99 L409.60,369.64 L410.20,369.23 L410.80,366.34 L411.30,369.21 L412.00,365.36 L412.60,366.57 L413.20,366.04 L413.50,366.84 L413.80,365.52 L414.40,364.11 L415.00,365.85 L415.60,363.05 L416.20,365.32 L416.80,364.89 L417.40,366.66 L418.00,364.55 L418.50,364.17 L419.20,364.16 L419.80,364.32 L420.40,364.89 L421.00,366.30 L421.50,364.59 L422.20,365.95 L422.80,364.89 L423.40,366.40 L424.00,366.94 L424.40,365.67 L425.20,366.76 L425.80,367.75 L426.40,368.73 L427.00,369.23 L427.60,368.48 L428.00,367.80 L428.80,367.40 L429.40,369.97 L430.00,370.75 L430.60,369.89 L431.20,371.26 L431.60,369.34 L432.40,369.60 L433.00,371.71 L433.60,369.27 L434.20,371.03 L434.50,370.89 L434.80,371.02 L435.40,373.35 L436.00,371.47 L436.60,372.66 L437.20,371.73 L437.50,373.15 L437.80,373.80 L438.40,374.16 L439.00,374.58 L439.60,375.32 L440.20,374.58 L440.80,373.49 L441.10,375.75 L441.40,376.18 L442.00,374.91 L442.60,375.60 L443.20,378.48 L443.80,378.06 L444.40,378.43 L444.70,378.17 L445.00,377.69 L445.60,377.13 L446.20,378.32 L446.80,377.64 L447.40,377.49 L448.00,378.02 L448.40,378.02 L449.20,378.94 L449.80,377.04 L450.40,380.47 L451.00,376.90 L451.60,377.45 L452.20,378.78 L452.70,376.96 L453.40,377.23 L454.00,377.68 L454.60,374.60 L455.20,377.00 L455.80,376.48 L456.40,377.13 L457.00,377.81 L457.60,377.89 L458.20,378.70 L458.80,378.58 L459.40,378.10 L460.00,376.96 L460.60,378.04 L461.20,375.98 L461.80,376.87 L462.40,378.40 L463.00,377.74 L463.60,375.52 L464.20,376.32 L464.80,377.82 L465.40,377.57 L466.00,378.11 L466.60,375.32 L467.20,375.89 L467.80,376.99 L468.40,376.33 L469.00,377.36 L469.60,377.48 L470.00,377.86 L470.80,377.43 L471.40,378.17 L472.00,378.42 L472.60,377.83 L473.20,376.48 L473.80,379.05 L474.40,378.00 L475.00,378.25 L475.60,377.99 L476.20,376.20 L476.80,378.40 L477.40,377.16 L478.00,376.59 L478.60,379.11 L479.20,377.51 L479.80,378.11 L480.40,378.76 L481.00,379.55 L481.60,376.15 L482.20,377.29 L482.80,378.78 L483.40,377.48 L484.00,374.93 L484.60,378.42 L485.00,378.54 L485.80,379.18 L486.40,378.66 L487.00,378.03 L487.60,378.74 L488.20,378.54 L488.80,378.11 L489.40,378.93 L490.00,379.08 L490.60,377.72 L491.20,379.80 L491.80,379.62 L492.40,379.61 L493.00,376.07 L493.60,378.98 L494.20,378.76 L494.80,377.90 L495.40,379.52 L496.00,377.44 L496.60,380.22 L497.20,379.39 L497.80,378.52 L498.40,380.48 L499.00,379.54 L499.60,379.44 L500.00,377.80 L500.80,379.61 L501.40,380.48 L502.00,380.14 L502.60,377.71 L503.20,380.38 L503.80,380.57 L504.40,379.79 L505.00,378.52 L505.60,377.37 L506.20,377.94 L506.80,378.25 L507.40,379.08 L508.00,379.33 L508.60,378.00 L509.20,377.08 L509.80,378.28 L510.40,377.35 L511.00,380.03 L511.60,377.44 L512.20,379.16 L512.80,379.51 L513.40,377.68 L514.00,379.68 L514.60,378.52 L515.20,377.87 L515.80,377.71 L516.40,378.77 L517.00,379.74 L517.60,376.74 L518.20,379.27 L518.80,378.50 L519.40,377.89 L520.00,378.54 L520.60,378.66 L521.20,378.64 L521.80,379.54 L522.40,377.84 L523.00,380.76 L523.60,379.70 L524.20,378.22 L524.80,376.90 L525.40,378.85 L526.00,378.49 L526.60,379.68 L527.20,379.68 L527.80,380.91 L528.40,378.87 L529.00,379.83 L529.60,378.63 L530.00,378.70" stroke="#222" stroke-width="1.0"/>
</g>
<g stroke="#000" stroke-width="1.6" fill="none">
<rect x="48.7" y="6.1" width="482.80" height="406.90"/>
<line x1="48.70" y1="413.0" x2="48.70" y2="420.6"/><line x1="70.65" y1="413.0" x2="70.65" y2="416.9"/><line x1="92.59" y1="413.0" x2="92.59" y2="420.6"/><line x1="114.54" y1="413.0" x2="114.54" y2="416.9"/><line x1="136.48" y1="413.0" x2="136.48" y2="420.6"/><line x1="158.43" y1="413.0" x2="158.43" y2="416.9"/><line x1="180.37" y1="413.0" x2="180.37" y2="420.6"/><line x1="202.32" y1="413.0" x2="202.32" y2="416.9"/><line x1="224.26" y1="413.0" x2="224.26" y2="420.6"/><line x1="246.21" y1="413.0" x2="246.21" y2="416.9"/><line x1="268.15" y1="413.0" x2="268.15" y2="420.6"/><line x1="290.10" y1="413.0" x2="290.10" y2="416.9"/><line x1="312.05" y1="413.0" x2="312.05" y2="420.6"/><line x1="333.99" y1="413.0" x2="333.99" y2="416.9"/><line x1="355.94" y1="413.0" x2="355.94" y2="420.6"/><line x1="377.88" y1="413.0" x2="377.88" y2="416.9"/><line x1="399.83" y1="413.0" x2="399.83" y2="420.6"/><line x1="421.77" y1="413.0" x2="421.77" y2="416.9"/><line x1="443.72" y1="413.0" x2="443.72" y2="420.6"/><line x1="465.66" y1="413.0" x2="465.66" y2="416.9"/><line x1="487.61" y1="413.0" x2="487.61" y2="420.6"/><line x1="509.55" y1="413.0" x2="509.55" y2="416.9"/><line x1="531.50" y1="413.0" x2="531.50" y2="420.6"/>
</g>
<g class="tl"><text x="48.70" y="434.8">100</text><text x="92.59" y="434.8">200</text><text x="136.48" y="434.8">300</text><text x="180.37" y="434.8">400</text><text x="224.26" y="434.8">500</text><text x="268.15" y="434.8">600</text><text x="312.05" y="434.8">700</text><text x="355.94" y="434.8">800</text><text x="399.83" y="434.8">900</text><text x="443.72" y="434.8">1000</text><text x="487.61" y="434.8">1100</text><text x="531.50" y="434.8">1200</text></g>
<!-- markers -->
<g fill="#000">
<rect x="95.5" y="13.3" width="13" height="13"/>
<ellipse cx="72" cy="90.7" rx="5.8" ry="4.9"/>
<ellipse cx="186.8" cy="197.9" rx="5.6" ry="5.0"/>
<ellipse cx="283.6" cy="152.7" rx="5.6" ry="5.3"/>
<polygon points="228.40,312.45 230.52,318.31 236.10,318.77 231.82,322.86 233.16,329.00 228.40,325.67 223.64,329.00 224.98,322.86 220.70,318.77 226.28,318.31"/>
<polygon points="166.3,334.3 172.8,345.9 159.8,345.9"/>
<!-- legend markers -->
<ellipse cx="370" cy="18.6" rx="5.8" ry="5.1"/>
<rect x="362.6" y="31.3" width="13" height="13"/>
<polygon points="369.30,56.60 371.53,62.13 377.48,62.54 372.91,66.37 374.35,72.16 369.30,69.00 364.25,72.16 365.69,66.37 361.12,62.54 367.07,62.13"/>
<polygon points="369.5,80.5 376,92.9 363,92.9"/>
</g>
<g class="ml">
<text transform="translate(388.3,26.2) scale(1.047,1)">Cu<tspan font-size="11.5" dy="4">2</tspan><tspan dy="-4">O</tspan></text>
<text transform="translate(388.3,45.5) scale(1.043,1)">Cu<tspan font-size="11.5" dy="4">2</tspan><tspan dy="-4">(OH)</tspan><tspan font-size="11.5" dy="4">3</tspan><tspan dy="-4">Cl</tspan></text>
<text transform="translate(388.3,70.2) scale(1.048,1)">CuO</text>
<text transform="translate(388.3,91.1) scale(1.043,1)">Cr<tspan font-size="11.5" dy="4">2</tspan><tspan dy="-4">O</tspan><tspan font-size="11.5" dy="4">5</tspan></text>
</g>
<g stroke-width="1.4">
<line x1="356.1" y1="110.4" x2="383" y2="110.4" stroke="#7432B0"/>
<line x1="356.1" y1="131.9" x2="383" y2="131.9" stroke="#FF0000"/>
<line x1="356.1" y1="152.2" x2="383" y2="152.2" stroke="#FFC000"/>
<line x1="356.1" y1="170.5" x2="383" y2="170.5" stroke="#000"/>
</g>
<g class="sl">
<text transform="translate(387.8,116.1) scale(1.09,1)">Cu70-Ni10-Al 20</text>
<text transform="translate(387.8,135.8) scale(1.09,1)">Cu70-Ni15-Al 15</text>
<text transform="translate(387.8,155.5) scale(1.092,1)">Cu70-Ni20-Al 10</text>
<text transform="translate(387.8,175.3) scale(1.097,1)">Cu70-Ni30</text>
</g>
<text class="ax" transform="translate(222,452.1) scale(1.0,1)" letter-spacing="0.62">Raman shift(cm<tspan font-weight="normal" font-size="11" dy="-7">−1</tspan><tspan dy="7">)</tspan></text>
<text class="yl" transform="translate(18.8,249.8) rotate(-90) scale(0.975,1)">Intensity(a.u)</text>
</svg>
</body></html>
